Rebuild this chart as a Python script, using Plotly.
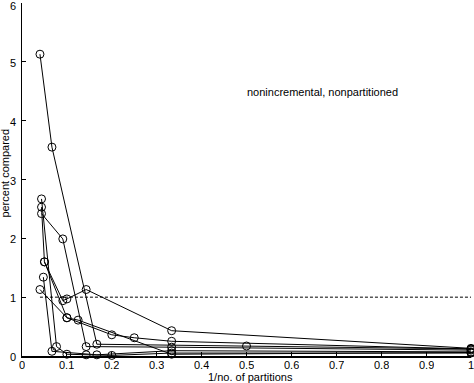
import plotly.graph_objects as go

# series data: x = 1/no. of partitions, y = percent compared
s1_x = [0.04, 0.0667, 0.1667, 0.5, 1]
s1_y = [5.13, 3.55, 0.20, 0.17, 0.12]
s2_x = [0.0435, 0.0909, 0.1429, 0.3333, 1]
s2_y = [2.42, 1.99, 0.16, 0.15, 0.10]
s3_x = [0.0435, 0.05, 0.0909, 0.1, 0.1429, 0.3333, 1]
s3_y = [2.53, 1.60, 0.94, 0.97, 1.13, 0.43, 0.13]
s4_x = [0.0435, 0.0769, 0.1, 0.1429, 0.2, 0.3333, 1]
s4_y = [2.67, 0.16, 0.03, 0.02, 0.01, 0.05, 0.05]
s5_x = [0.04, 0.1, 0.2, 0.25, 0.3333, 1]
s5_y = [1.13, 0.65, 0.36, 0.31, 0.25, 0.12]
s6_x = [0.0476, 0.0667, 0.1667, 0.3333, 1]
s6_y = [1.34, 0.08, 0.02, 0.09, 0.07]
s7_x = [0.05, 0.1, 0.125, 0.3333, 1]
s7_y = [1.60, 0.65, 0.61, 0.03, 0.06]

ref_x = [0.04, 1]
ref_y = [1, 1]

x_ticks = [0, 0.1, 0.2, 0.3, 0.4, 0.5, 0.6, 0.7, 0.8, 0.9, 1]
x_tick_text = ["0", "0.1", "0.2", "0.3", "0.4", "0.5", "0.6", "0.7", "0.8", "0.9", "1"]
y_ticks = [0, 1, 2, 3, 4, 5, 6]
y_tick_text = ["0", "1", "2", "3", "4", "5", "6"]

series = [(s1_x, s1_y), (s2_x, s2_y), (s3_x, s3_y), (s4_x, s4_y),
          (s5_x, s5_y), (s6_x, s6_y), (s7_x, s7_y)]

fig = go.Figure()
for sx, sy in series:
    fig.add_trace(go.Scatter(
        x=sx, y=sy, mode="lines+markers",
        line=dict(color="black", width=1),
        marker=dict(symbol="circle-open", size=8, color="black",
                    line=dict(width=1, color="black")),
        showlegend=False, cliponaxis=False))

fig.add_trace(go.Scatter(x=ref_x, y=ref_y, mode="lines",
                         line=dict(color="black", width=1, dash="3px,2px"),
                         showlegend=False))

tick_font = dict(family="Liberation Sans", size=11, color="black")

# tick labels as annotations (so the end labels are not hidden)
for v, t in zip(x_ticks, x_tick_text):
    fig.add_annotation(x=v, y=0, xref="x", yref="y", text=t, showarrow=False,
                       yanchor="top", yshift=-2, height=11, borderpad=0,
                       font=tick_font)
for v, t in zip(y_ticks, y_tick_text):
    fig.add_annotation(x=0, y=v, xref="x", yref="y", text=t, showarrow=False,
                       xanchor="right", xshift=-4,
                       yshift=(-3 if v == 6 else -1), font=tick_font)

fig.add_annotation(x=0.508, y=4.49, xref="x", yref="y",
                   text="nonincremental, nonpartitioned", showarrow=False,
                   xshift=0,
                   font=dict(family="Liberation Sans", size=11, color="black"))
fig.add_annotation(x=0.508, y=0, xref="x", yref="y", xanchor="center",
                   yanchor="middle", yshift=-21, height=12, borderpad=0,
                   text="1/no. of partitions", showarrow=False,
                   font=dict(family="Liberation Sans", size=11, color="black"))
fig.add_annotation(x=0, y=3.1, xref="x", yref="y", xanchor="center", xshift=-17,
                   textangle=-90,
                   text="percent compared", showarrow=False,
                   font=dict(family="Liberation Sans", size=11, color="black"))

fig.update_layout(
    width=474, height=383,
    margin=dict(l=22, r=3, t=3, b=27),
    plot_bgcolor="white", paper_bgcolor="white",
    font=dict(family="Liberation Sans", size=11, color="black"),
)
fig.update_xaxes(range=[0, 1], tickvals=x_ticks, showticklabels=False,
                 ticks="inside", ticklen=4, tickcolor="black",
                 showline=True, linecolor="black", linewidth=2,
                 showgrid=False, zeroline=False)
fig.update_yaxes(range=[0, 6], tickvals=y_ticks, showticklabels=False,
                 ticks="inside", ticklen=4, tickcolor="black",
                 showline=True, linecolor="black", linewidth=1,
                 showgrid=False, zeroline=False)

# keep the note at its place in the reference
fig.layout.annotations[-3].x = 0.67

fig.write_html("out.html", config={"displayModeBar": False},
               post_script="document.body.style.margin='0';document.body.style.overflow='hidden';")
